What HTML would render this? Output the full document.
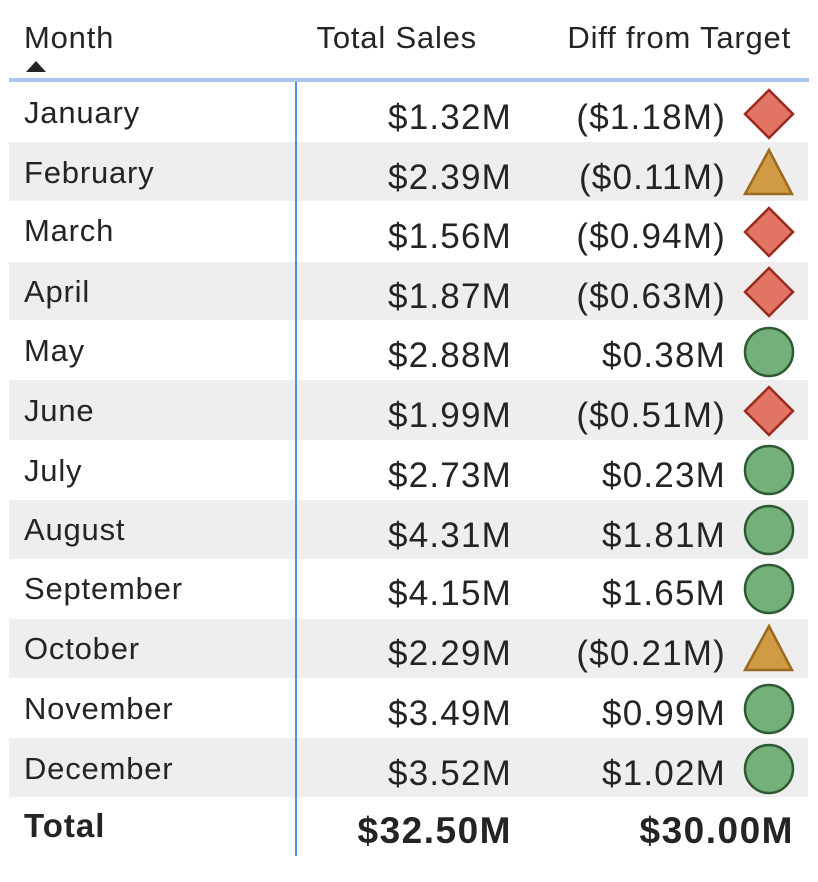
<!DOCTYPE html>
<html><head><meta charset="utf-8"><style>
html,body{margin:0;padding:0;background:#fff;}
svg{display:block;}
text{font-family:"Liberation Sans","DejaVu Sans",sans-serif;fill:#252423;}
</style></head><body>
<svg width="818" height="882" viewBox="0 0 818 882" xmlns="http://www.w3.org/2000/svg">
<rect width="818" height="882" fill="#fff"/>
<g fill="#eeeeee">
<rect x="9" y="142" width="799" height="59"/>
<rect x="9" y="262" width="799" height="58"/>
<rect x="9" y="380" width="799" height="60"/>
<rect x="9" y="500" width="799" height="59"/>
<rect x="9" y="619" width="799" height="59"/>
<rect x="9" y="738" width="799" height="59"/>
</g>
<rect x="9" y="78" width="800" height="4" fill="#a9c8f2"/>
<rect x="295" y="82" width="2" height="774" fill="#4a8ee8"/>
<g font-size="31" letter-spacing="0.8">
<text x="24" y="48">Month</text>
<text x="477" y="48" text-anchor="end">Total Sales</text>
<text x="791" y="48" text-anchor="end">Diff from Target</text>
</g>
<polygon points="26,72 36,61 46,72" fill="#252423"/>
<g font-size="31" letter-spacing="0.8">
<text x="24" y="123">January</text>
<text x="24" y="183">February</text>
<text x="24" y="241">March</text>
<text x="24" y="302">April</text>
<text x="24" y="361">May</text>
<text x="24" y="421">June</text>
<text x="24" y="481">July</text>
<text x="24" y="540">August</text>
<text x="24" y="599">September</text>
<text x="24" y="659">October</text>
<text x="24" y="719">November</text>
<text x="24" y="779">December</text>
</g>
<g font-size="35" letter-spacing="1.2" text-anchor="end">
<text x="512" y="129">$1.32M</text>
<text x="512" y="189">$2.39M</text>
<text x="512" y="248">$1.56M</text>
<text x="512" y="308">$1.87M</text>
<text x="512" y="367">$2.88M</text>
<text x="512" y="427">$1.99M</text>
<text x="512" y="487">$2.73M</text>
<text x="512" y="547">$4.31M</text>
<text x="512" y="605">$4.15M</text>
<text x="512" y="665">$2.29M</text>
<text x="512" y="725">$3.49M</text>
<text x="512" y="785">$3.52M</text>
<text x="726" y="129">($1.18M)</text>
<text x="726" y="189">($0.11M)</text>
<text x="726" y="248">($0.94M)</text>
<text x="726" y="308">($0.63M)</text>
<text x="726" y="367">$0.38M</text>
<text x="726" y="427">($0.51M)</text>
<text x="726" y="487">$0.23M</text>
<text x="726" y="547">$1.81M</text>
<text x="726" y="605">$1.65M</text>
<text x="726" y="665">($0.21M)</text>
<text x="726" y="725">$0.99M</text>
<text x="726" y="785">$1.02M</text>
</g>
<g font-weight="bold">
<text x="24" y="837" font-size="33" letter-spacing="1">Total</text>
<text x="512" y="843" font-size="37" letter-spacing="1.5" text-anchor="end">$32.50M</text>
<text x="794" y="843" font-size="37" letter-spacing="1.5" text-anchor="end">$30.00M</text>
</g>
<g stroke-width="2.5" stroke-linejoin="miter">
<polygon points="769,90 793,114 769,138 745,114" fill="#e27463" stroke="#9a2b1e"/>
<polygon points="769,150 792,194 745,194" fill="#d19a44" stroke="#9a6a22"/>
<polygon points="769,208 793,232 769,256 745,232" fill="#e27463" stroke="#9a2b1e"/>
<polygon points="769,268 793,292 769,316 745,292" fill="#e27463" stroke="#9a2b1e"/>
<circle cx="769" cy="352" r="24" fill="#74b07a" stroke="#2e5a33"/>
<polygon points="769,387 793,411 769,435 745,411" fill="#e27463" stroke="#9a2b1e"/>
<circle cx="769" cy="470" r="24" fill="#74b07a" stroke="#2e5a33"/>
<circle cx="769" cy="530" r="24" fill="#74b07a" stroke="#2e5a33"/>
<circle cx="769" cy="589" r="24" fill="#74b07a" stroke="#2e5a33"/>
<polygon points="769,626 792,670 745,670" fill="#d19a44" stroke="#9a6a22"/>
<circle cx="769" cy="709" r="24" fill="#74b07a" stroke="#2e5a33"/>
<circle cx="769" cy="769" r="24" fill="#74b07a" stroke="#2e5a33"/>
</g>
</svg>
</body></html>
